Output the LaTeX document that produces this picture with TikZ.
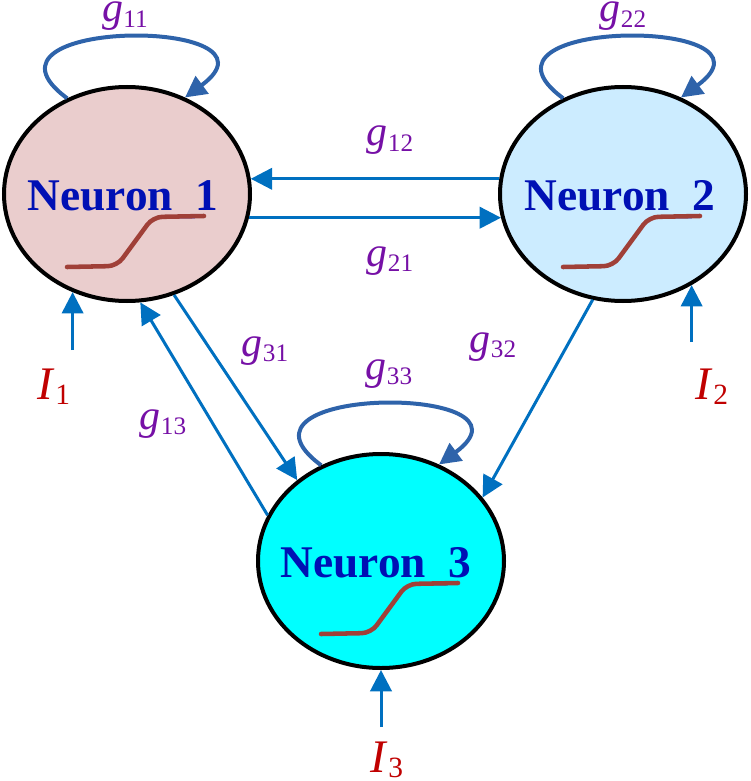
\documentclass[tikz,border=0pt]{standalone}
\usepackage{fontspec}
\setmainfont{Liberation Serif}
\usetikzlibrary{arrows.meta,shapes.geometric,calc}

\definecolor{linkblue}{RGB}{0,112,192}
\definecolor{loopblue}{RGB}{46,99,170}
\definecolor{gpurple}{RGB}{118,16,166}
\definecolor{ired}{RGB}{192,0,0}
\definecolor{namblue}{RGB}{0,16,180}
\definecolor{sigbrown}{RGB}{160,64,56}
\definecolor{pinkfill}{RGB}{234,205,205}
\definecolor{skyfill}{RGB}{204,236,255}
\definecolor{cyanfill}{RGB}{0,255,255}

\newcommand{\sublab}[3]{\textit{#1}\raisebox{-0.12em}{\scalebox{#3}{#2}}}
\newcommand{\neurname}[1]{Neuron\raisebox{-2.2pt}{\_}#1}

\begin{document}
\begin{tikzpicture}[x=0.75pt, y=-0.75pt,
    neuron/.style={ellipse, draw=black, line width=3pt, inner sep=0pt,
        minimum width=184.5pt, minimum height=160.5pt},
    neurtext/.style={anchor=base, text=namblue, font=\fontsize{34}{40}\selectfont\bfseries},
    link/.style={draw=linkblue, line width=2.25pt, -{Triangle[length=16pt,width=16pt]}},
    selfloop/.style={draw=loopblue, line width=3pt, -{Triangle[length=16pt,width=16pt]}},
    sigmoid/.style={draw=sigbrown, line width=3.4pt, line cap=round, rounded corners=7pt},
    glab/.style={anchor=base, inner sep=0pt, text=gpurple, font=\fontsize{31.5}{36}\selectfont},
    ilab/.style={anchor=base, inner sep=0pt, text=ired, font=\fontsize{35}{42}\selectfont}]
    \useasboundingbox (0,0) rectangle (750,781);

    % Neurons
    \node[neuron, fill=pinkfill] (n1) at (127,194) {};
    \node[neuron, fill=skyfill] (n2) at (623,194) {};
    \node[neuron, fill=cyanfill] (n3) at (381,561) {};

    \node[neurtext] (t1) at (123,210) {\neurname{1}};
    \node[neurtext] (t2) at (620,210) {\neurname{2}};
    \node[neurtext] (t3) at (376,577) {\neurname{3}};

    % Sigmoids and self couplings
    \foreach \n in {n1,n2,n3} {
        \draw[sigmoid, shift={(\n.center)}] (-60,73) -- (-10,72) -- (26,23) -- (77,22);
        \draw[selfloop] (\n.122) .. controls +(-110,-81) and +(110,-81) .. (\n.59);
    }

    % Couplings between neurons
    \draw[link] (n2.173) -- (n1.7);
    \draw[link] (n1.-11) -- (n2.191);
    \draw[link] (n1.-65) -- (n3.136);
    \draw[link] (n3.158) -- (n1.-83);
    \draw[link] (n2.254) -- (n3.32);

    % External inputs
    \coordinate (i1) at ($(n1.241)+(0,58)$);
    \coordinate (i2) at ($(n2.307)+(0,57)$);
    \coordinate (i3) at ($(n3.south)+(0,57)$);
    \draw[link] (i1) -- (n1.241);
    \draw[link] (i2) -- (n2.307);
    \draw[link] (i3) -- (n3.south);

    % Labels
    \node[glab] (g11) at (125,22) {\sublab{g}{11}{0.6}};
    \node[glab] (g22) at (623,22) {\sublab{g}{22}{0.6}};
    \node[glab] (g33) at (389,379) {\sublab{g}{33}{0.6}};
    \node[glab] (g12) at (390,146) {\sublab{g}{12}{0.6}};
    \node[glab] (g21) at (390,266) {\sublab{g}{21}{0.6}};
    \node[glab] (g31) at (265,356) {\sublab{g}{31}{0.6}};
    \node[glab] (g13) at (163,429) {\sublab{g}{13}{0.6}};
    \node[glab] (g32) at (493,352) {\sublab{g}{32}{0.6}};

    \node[ilab] (l1) at (54,399) {\sublab{I}{1}{0.63}};
    \node[ilab] (l2) at (712,399) {\sublab{I}{2}{0.63}};
    \node[ilab] (l3) at (387,772) {\sublab{I}{3}{0.63}};
\end{tikzpicture}
\end{document}
